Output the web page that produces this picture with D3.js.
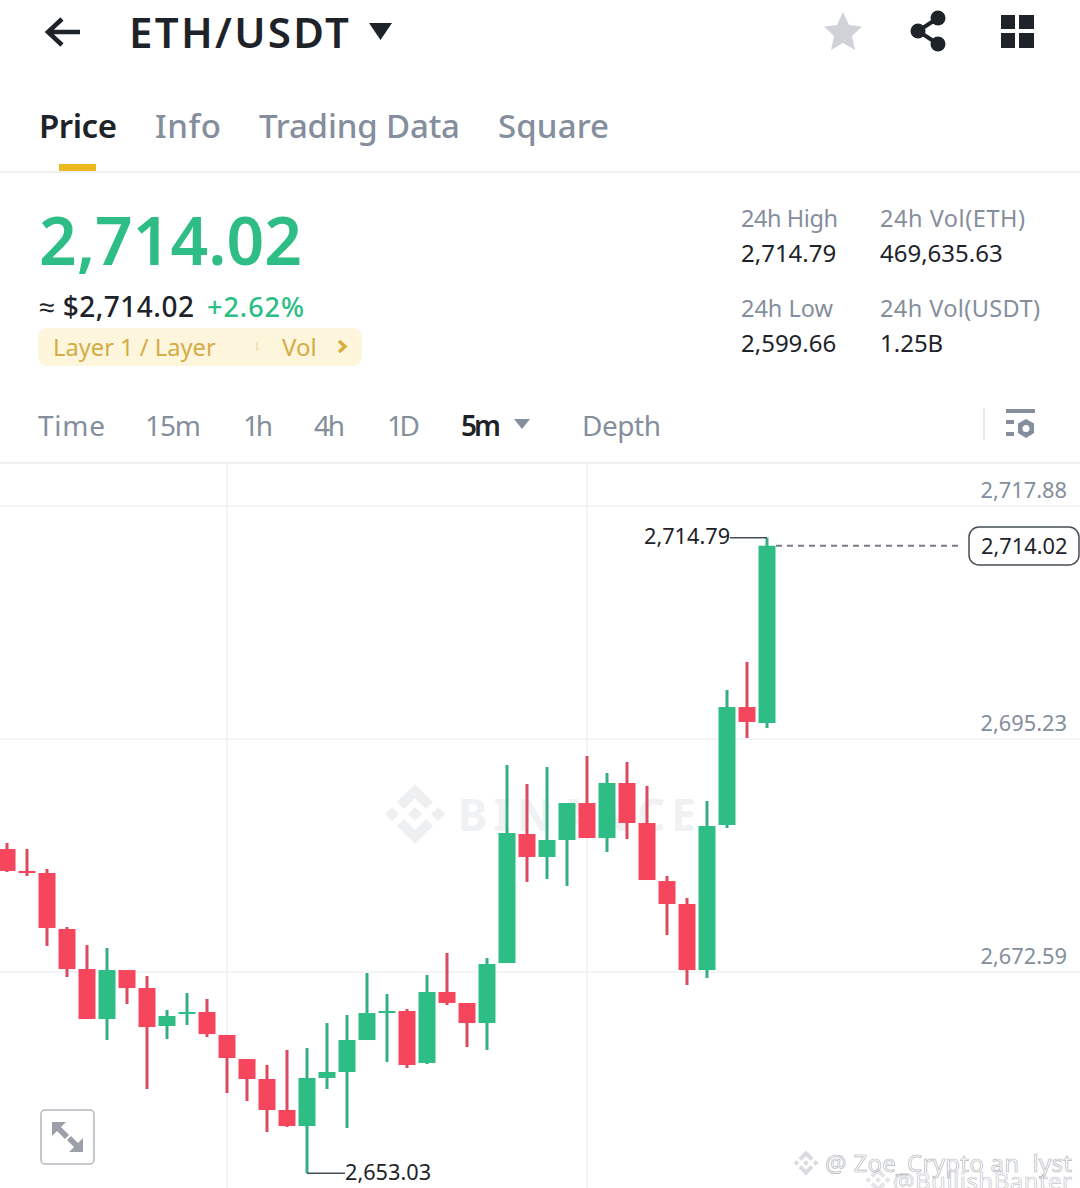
<!DOCTYPE html>
<html><head><meta charset="utf-8">
<script src="https://cdn.jsdelivr.net/npm/d3@7/dist/d3.min.js"></script>
<style>html,body{margin:0;padding:0;background:#fff}svg{display:block}text{font-family:"Noto Sans",sans-serif}</style>
</head><body><svg id="c" width="1080" height="1188"></svg>
<script>
// --- data: 5m candles
const opens =[2684.54,2682.41,2682.21,2676.77,2672.88,2668.02,2672.78,2671.03,2667.34,2668.51,2668.70,2666.47,2664.13,2662.19,2659.18,2657.62,2662.29,2662.87,2665.98,2668.60,2668.80,2663.75,2670.65,2669.58,2667.63,2673.46,2686.00,2683.77,2685.42,2689.01,2685.61,2690.96,2687.07,2681.43,2679.20,2672.78,2686.88,2698.34,2696.79];
const closes=[2682.41,2682.21,2676.87,2672.88,2668.02,2672.78,2671.03,2667.24,2668.31,2668.70,2666.56,2664.23,2662.19,2659.18,2657.62,2662.29,2662.87,2665.98,2668.60,2668.80,2663.55,2670.65,2669.58,2667.63,2673.37,2686.10,2683.77,2685.42,2689.01,2685.61,2690.96,2687.07,2681.53,2679.20,2672.78,2686.78,2698.34,2696.89,2714.02];
const highs =[2685.13,2684.54,2682.60,2676.96,2675.21,2674.92,2672.78,2672.20,2668.90,2670.55,2669.97,2666.47,2664.13,2663.55,2665.01,2665.20,2667.63,2668.41,2672.49,2670.45,2668.99,2672.30,2674.44,2669.58,2673.95,2692.71,2690.86,2692.51,2689.01,2693.58,2691.93,2693.00,2690.67,2681.92,2679.78,2689.21,2700.00,2702.72,2714.79];
const lows  =[2682.31,2681.92,2675.12,2672.10,2668.02,2665.98,2669.48,2661.22,2666.08,2667.44,2666.27,2660.83,2660.05,2657.04,2657.53,2653.03,2661.22,2657.43,2665.98,2663.84,2663.26,2663.65,2669.38,2665.30,2665.01,2673.46,2681.34,2681.63,2680.95,2685.61,2684.25,2685.52,2681.53,2676.19,2671.33,2672.01,2686.58,2695.33,2696.30];
const priceTicks=[2717.88,2695.23,2672.59];
const tabs=["Price","Info","Trading Data","Square"];
const intervals=["Time","15m","1h","4h","1D","5m","Depth"];
const stats=[["24h High","2,714.79"],["24h Vol(ETH)","469,635.63"],["24h Low","2,599.66"],["24h Vol(USDT)","1.25B"]];

const UP="#2EBD85",DOWN="#F6465D",INK="#1E2329",GREY="#848E9C",GRID="#EFF0F2";
const svg=d3.select("#c");
const fmt=d3.format(",.2f");
const y=d3.scaleLinear().domain([2717.88,2672.59]).range([506,972]);
const x=d3.scaleLinear().domain([0,38]).range([7,767]);
const T=(s,px,py,size,fill,weight,len)=>{const t=svg.append("text").attr("x",px).attr("y",py).attr("font-size",size).attr("fill",fill).attr("font-weight",weight||400).text(s);if(len)t.attr("textLength",len).attr("lengthAdjust","spacing");return t;};

// header
svg.append("path").attr("d","M80 32H49M62 19L48 32L62 45").attr("fill","none").attr("stroke",INK).attr("stroke-width",4.5);
T("ETH/USDT",129,48,42,INK,600,220);
svg.append("path").attr("d","M369 23H392L380.5 40Z").attr("fill",INK);
svg.append("path").attr("d","M843 12L849 25L862 26.500L852 36L855 50L843 43L831 50L834 36L824 26.500L837 25Z").attr("fill","#CFD3D8");
svg.append("path").attr("d","M938 18L918 31L938 44").attr("fill","none").attr("stroke",INK).attr("stroke-width",4);
[[938,18],[918,31],[938,44]].forEach(p=>svg.append("circle").attr("cx",p[0]).attr("cy",p[1]).attr("r",7.5).attr("fill",INK));
[[1001,15,14,14],[1019,15,15,14],[1001,33,14,15],[1019,33,15,15]].forEach(r=>svg.append("rect").attr("x",r[0]).attr("y",r[1]).attr("width",r[2]).attr("height",r[3]).attr("fill",INK));

// tabs
const tabX=[39,155,259,498],tabW=[78,66,201,111];
tabs.forEach((s,i)=>T(s,tabX[i],138,33,i?GREY:INK,i?500:600,tabW[i]));
svg.append("rect").attr("x",59).attr("y",164).attr("width",37).attr("height",7).attr("fill","#EBB91E");
svg.append("rect").attr("x",0).attr("y",171).attr("width",1080).attr("height",2).attr("fill",GRID);

// price block
T("2,714.02",39,265,66,UP,600,263);
T("≈ $2,714.02",39,317,28,INK,500,155);
T("+2.62%",207,317,27,UP,500,97);
svg.append("rect").attr("x",38).attr("y",328).attr("width",324).attr("height",38).attr("rx",9).attr("fill","#FEF6DC");
T("Layer 1 / Layer",53,356,23.7,"#D3AC45",400);
svg.append("rect").attr("x",256).attr("y",342).attr("width",2).attr("height",9).attr("fill","#F3E3B4");
T("Vol",282,356,24,"#D3AC45",400);
svg.append("path").attr("d","M339 341L345 346.500L339 352").attr("fill","none").attr("stroke","#D9AE3A").attr("stroke-width",3.5);

// stats
const statPos=[[741,227,262],[880,227,262],[741,317,352],[880,317,352]],statW=[97,145,92,160];
stats.forEach((d,i)=>{T(d[0],statPos[i][0],statPos[i][1],23.5,GREY,400,statW[i]);T(d[1],statPos[i][0],statPos[i][2],24,INK,400);});

// intervals
const intX=[38,145,243,314,387,461,582],intW=[67,56,30,31,33,40,79];
intervals.forEach((s,i)=>T(s,intX[i],436,28,i==5?INK:GREY,i==5?600:400,intW[i]));
svg.append("path").attr("d","M514 419H530L522 429Z").attr("fill",GREY);
svg.append("rect").attr("x",983).attr("y",408).attr("width",2).attr("height",32).attr("fill","#E6E8EA");
svg.append("rect").attr("x",1006).attr("y",409).attr("width",29).attr("height",4).attr("fill",GREY);
svg.append("rect").attr("x",1006).attr("y",420).attr("width",8).attr("height",4).attr("fill",GREY);
svg.append("rect").attr("x",1006).attr("y",432).attr("width",8).attr("height",4).attr("fill",GREY);
svg.append("path").attr("d","M1026 419L1034 423.500V433L1026 438L1018 433V423.500Z").attr("fill",GREY);
svg.append("circle").attr("cx",1026).attr("cy",428.500).attr("r",3.500).attr("fill","#fff");

// chart grid
svg.append("rect").attr("x",0).attr("y",462).attr("width",1080).attr("height",2).attr("fill",GRID);
[227,587].forEach(v=>svg.append("line").attr("x1",v).attr("x2",v).attr("y1",464).attr("y2",1188).attr("stroke",GRID).attr("stroke-width",1.5));
svg.append("g").selectAll("line").data(priceTicks).join("line").attr("x1",0).attr("x2",1080)
  .attr("y1",d=>y(d)).attr("y2",d=>y(d)).attr("stroke",GRID).attr("stroke-width",1.5);
svg.append("g").selectAll("text").data(priceTicks).join("text").attr("x",1067).attr("y",d=>y(d)-8)
  .attr("text-anchor","end").attr("font-size",21.8).attr("fill",GREY).text(fmt);

// watermark
function logo(cx,cy,s,fill,op){
  const g=svg.append("g").attr("transform",`translate(${cx},${cy}) scale(${s})`).attr("fill",fill).attr("opacity",op);
  g.append("path").attr("d","M0 -30L18 -12L11 -5L0 -16L-11 -5L-18 -12Z");
  g.append("path").attr("d","M0 30L18 12L11 5L0 16L-11 5L-18 12Z");
  g.append("path").attr("d","M0 -7L7 0L0 7L-7 0Z");
  g.append("path").attr("d","M-30 0L-23 -7L-16 0L-23 7Z");
  g.append("path").attr("d","M30 0L23 -7L16 0L23 7Z");
}
logo(415,814,1,"#EEEFF1",1);
T("BINANCE",458,831,44,"#F0F1F3",700,238);

// candles
const idx=d3.range(opens.length);
svg.append("g").selectAll("rect").data(idx).join("rect")
  .attr("x",i=>x(i)-1.5).attr("width",3).attr("y",i=>y(highs[i])).attr("height",i=>Math.max(1,y(lows[i])-y(highs[i])))
  .attr("fill",i=>closes[i]>=opens[i]?"#36AE83":"#DB4A60");
svg.append("g").selectAll("rect").data(idx).join("rect")
  .attr("x",i=>x(i)-8.5).attr("width",17).attr("y",i=>y(Math.max(opens[i],closes[i]))).attr("height",i=>Math.max(2,Math.abs(y(opens[i])-y(closes[i]))))
  .attr("fill",i=>closes[i]>=opens[i]?UP:DOWN);

// high / low / last annotations
const last=opens.length-1,hi=highs[last],lo=d3.min(lows),loI=lows.indexOf(lo);
svg.append("line").attr("x1",730).attr("x2",x(last)).attr("y1",y(hi)).attr("y2",y(hi)).attr("stroke","#474D57").attr("stroke-width",1.5);
T(fmt(hi),644,544,21.7,INK,400);
svg.append("path").attr("d",`M${x(loI)} ${y(lo)}H345`).attr("fill","none").attr("stroke","#474D57").attr("stroke-width",1.5);
T(fmt(lo),345,1180,21.7,INK,400);
svg.append("line").attr("x1",776).attr("x2",962).attr("y1",y(closes[last])).attr("y2",y(closes[last])).attr("stroke","#777E8A").attr("stroke-width",2).attr("stroke-dasharray","6 5");
svg.append("rect").attr("x",969).attr("y",527).attr("width",110).attr("height",38).attr("rx",10).attr("fill","#fff").attr("stroke","#474D57").attr("stroke-width",1.5);
T(fmt(closes[last]),981,554,21.8,INK,400);

// expand button
svg.append("rect").attr("x",41).attr("y",1110).attr("width",53).attr("height",54).attr("rx",4).attr("fill","#fff").attr("stroke","#B3B7BD").attr("stroke-width",1.5);
svg.append("path").attr("d","M52 1122H66L61 1127L69 1135L65 1139L57 1131L52 1136Z").attr("fill","#9BA0A8");
svg.append("path").attr("d","M83 1152H69L74 1147L67 1140L71 1136L78 1143L83 1138Z").attr("fill","#9BA0A8");

// reposted-by overlays (these overlap and run off the bottom in the reference too)
logo(806,1163,.42,"#DADCDF",1);
logo(878,1180,.42,"#E3E5E8",1);
T("@BullishBanter",893,1190,24,"none",400,179).attr("stroke","#C4C7CB").attr("stroke-width",.7);
T("@ Zoe_Crypto an  lyst",825,1172,24,"none",400,247).attr("stroke","#B4B7BC").attr("stroke-width",.7).style("white-space","pre");
</script></body></html>
